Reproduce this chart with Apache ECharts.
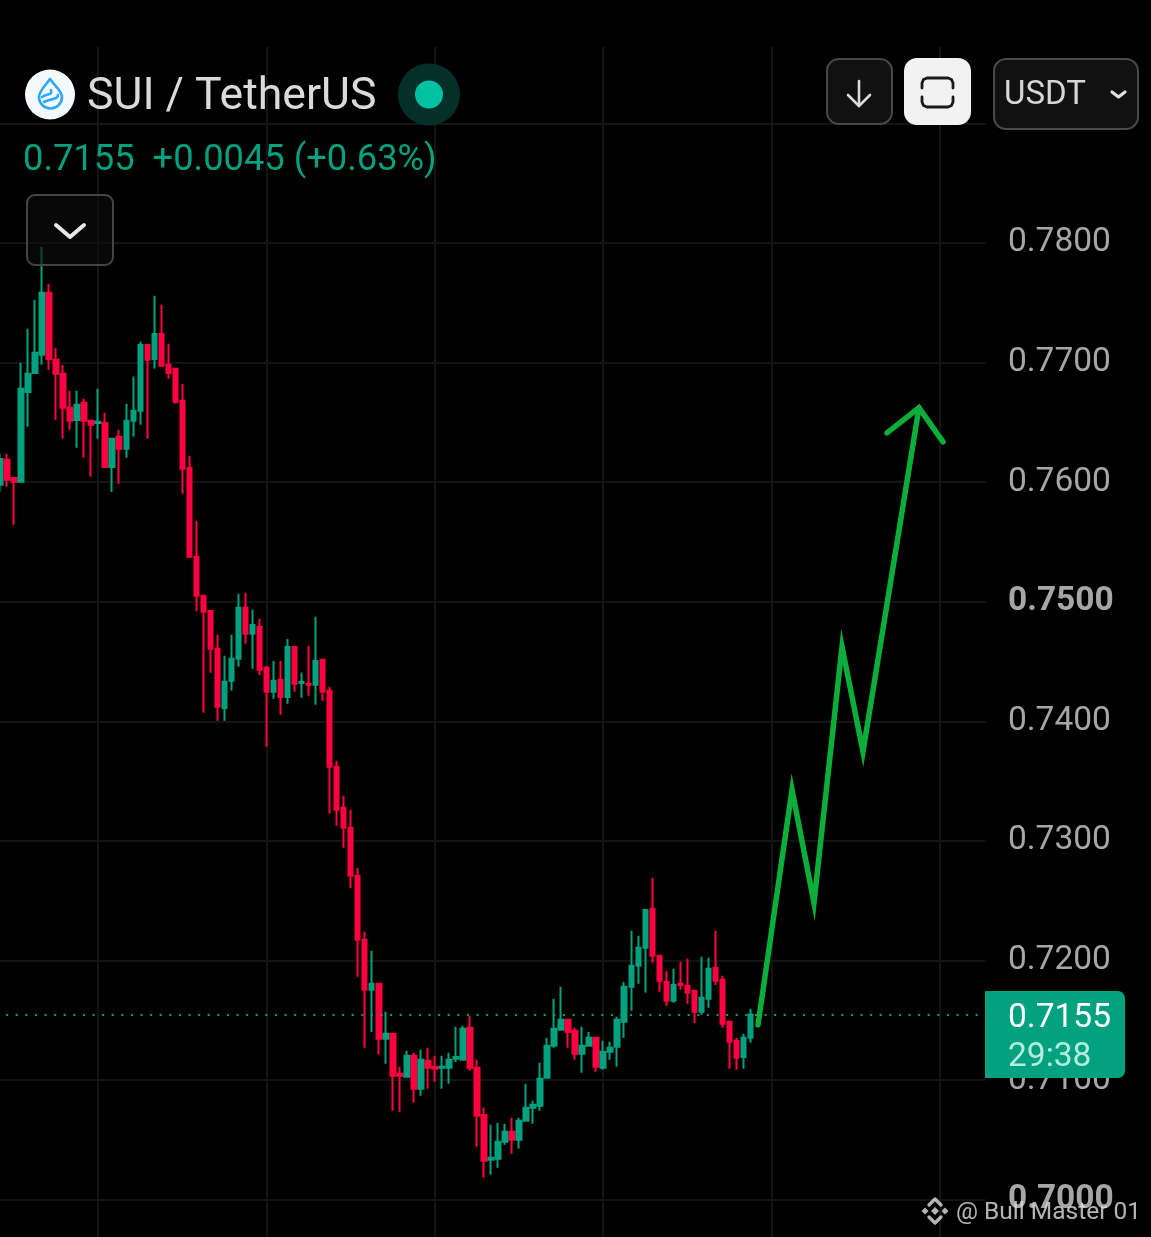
<!DOCTYPE html>
<html><head><meta charset="utf-8">
<style>html,body{margin:0;padding:0;background:#000}#c{width:1151px;height:1237px}</style>
<script src="https://cdn.jsdelivr.net/npm/echarts@6/dist/echarts.min.js"></script>
</head><body><div id="c"></div>
<script>
const opens=[.75978,.76187,.76036,.76003,.76755,.76914,.77065,.77583,.77023,.76906,.76622,.76521,.76664,.76513,.76496,.76496,.76128,.76379,.76279,.76513,.76597,.77148,.77031,.77240,.76981,.76948,.76680,.76120,.75376,.75050,.74924,.74607,.74113,.74339,.74523,.74950,.74732,.74791,.74448,.74247,.74348,.74205,.74623,.74322,.74314,.74306,.74515,.74256,.73620,.73277,.73110,.72709,.72174,.71756,.71806,.71346,.71388,.71053,.71028,.71204,.70928,.71162,.71112,.71104,.71104,.71179,.71170,.71438,.71104,.70710,.70334,.70343,.70485,.70568,.70502,.70660,.70769,.70786,.71020,.71287,.71421,.71505,.71413,.71221,.71287,.71354,.71104,.71237,.71279,.71488,.71781,.71956,.72107,.72433,.72040,.71822,.71664,.71806,.71789,.71747,.71572,.71680,.71940,.71839,.71488,.71329,.71195,.71354];
const closes=[.76195,.76020,.76003,.76781,.76906,.77082,.77583,.77031,.76906,.76622,.76513,.76647,.76513,.76480,.76505,.76128,.76363,.76279,.76513,.76597,.77148,.77023,.77240,.76973,.76914,.76672,.76112,.75376,.75050,.74916,.74607,.74122,.74331,.74523,.74950,.74732,.74807,.74431,.74247,.74339,.74205,.74623,.74314,.74331,.74306,.74506,.74247,.73620,.73261,.73110,.72709,.72174,.71756,.71806,.71346,.71388,.71037,.71037,.71204,.70928,.71170,.71104,.71095,.71112,.71170,.71195,.71430,.71104,.70702,.70326,.70351,.70485,.70568,.70502,.70660,.70769,.70794,.71012,.71287,.71430,.71505,.71404,.71221,.71287,.71354,.71112,.71237,.71271,.71505,.71781,.71956,.72107,.72424,.72040,.71831,.71664,.71797,.71797,.71731,.71572,.71689,.71931,.71831,.71471,.71321,.71187,.71354,.71550];
const lows=[.75919,.75961,.75643,.76003,.76463,.76914,.76981,.76939,.76521,.76363,.76438,.76287,.76204,.76045,.76363,.76128,.75919,.75986,.76204,.76379,.76480,.76363,.76948,.76973,.76864,.76655,.75903,.75376,.74924,.74072,.74406,.74005,.74005,.74256,.74456,.74649,.74440,.74389,.73787,.74189,.74055,.74147,.74247,.74197,.74214,.74139,.74172,.73227,.73127,.72943,.72608,.71864,.71271,.71404,.71212,.71137,.70744,.70735,.71028,.70811,.70869,.70928,.70986,.70928,.70970,.71153,.71170,.71078,.70443,.70184,.70209,.70267,.70460,.70384,.70426,.70660,.70635,.70744,.71012,.71271,.71421,.71271,.71170,.71062,.71287,.71070,.71087,.71170,.71112,.71354,.71580,.71806,.71731,.71981,.71739,.71622,.71647,.71756,.71639,.71479,.71547,.71605,.71797,.71438,.71095,.71087,.71095,.71313];
const highs=[.76237,.76237,.76045,.76998,.77282,.77525,.77968,.77658,.77123,.76981,.76764,.76764,.76697,.76513,.76781,.76580,.76363,.76438,.76655,.76881,.77174,.77148,.77558,.77483,.77157,.76948,.76822,.76220,.75677,.75050,.74924,.74724,.74548,.74724,.75067,.75075,.74933,.74858,.74465,.74506,.74506,.74690,.74632,.74406,.74632,.74874,.74523,.74289,.73670,.73378,.73261,.72776,.72241,.72082,.71814,.71572,.71388,.71112,.71246,.71229,.71254,.71271,.71204,.71204,.71229,.71446,.71455,.71538,.71170,.70769,.70627,.70644,.70635,.70685,.70685,.70970,.70828,.71145,.71354,.71680,.71781,.71505,.71438,.71446,.71404,.71363,.71329,.71321,.71530,.71822,.72249,.72207,.72433,.72692,.72040,.71914,.71931,.71990,.72015,.71756,.72032,.72023,.72249,.71873,.71488,.71354,.71388,.71597];
const lastPrice=0.7155;
const gridCandles=[14,38,62,86,110,134];
const forecastX=[108.07,112.92,116.05,120.05,123.04,131.02];
const forecastY=[.71463,.73428,.72483,.74624,.73746,.76622];
const arrowHeadX=[126.46,131.02,134.45];
const arrowHeadY=[.76413,.76622,.76337];
const categories=Array.from({length:141},(_,i)=>String(i));

const GREEN='#02A17F',RED='#FF0040',F='Roboto, sans-serif';
const candles=opens.map((o,i)=>[o,closes[i],lows[i],highs[i]]);
const chart=echarts.init(document.getElementById('c'),null,{renderer:'canvas'});
const box=(x,y,w,h,r,fill,stroke,z)=>({type:'rect',z:z||100,shape:{x,y,width:w,height:h,r},style:{fill,stroke,lineWidth:stroke?2:0}});
const line=(pts,stroke,w,z)=>({type:'polyline',z:z||101,shape:{points:pts},style:{fill:null,stroke,lineWidth:w,lineCap:'round',lineJoin:'round'}});
const txt=(x,y,text,size,fill,extra)=>({type:'text',z:102,x,y,style:Object.assign({text,fontFamily:F,fontSize:size,fill,verticalAlign:'middle'},extra||{})});
const diamond=(cx,cy,r,fill)=>({type:'polygon',z:102,shape:{points:[[cx,cy-r],[cx+r,cy],[cx,cy+r],[cx-r,cy]]},style:{fill}});
const curve=(x1,y1,cpx1,cpy1,cpx2,cpy2,x2,y2,stroke,w)=>({type:'bezierCurve',z:101,shape:{x1,y1,cpx1,cpy1,cpx2,cpy2,x2,y2},style:{fill:null,stroke,lineWidth:w,lineCap:'round'}});
const WM='rgba(225,225,225,0.8)',BLUE='#2DA8FF';
chart.setOption({
  animation:false,backgroundColor:'#000',
  grid:{left:-3.507,top:3.8,width:988.97,height:1315.6,containLabel:false,outerBoundsMode:'none'},
  xAxis:[
    {type:'category',data:categories,boundaryGap:true,axisLine:{show:false},axisTick:{show:false},axisLabel:{show:false},
     splitLine:{show:true,alignWithLabel:true,interval:(i)=>gridCandles.includes(i),lineStyle:{color:'#141414',width:2}}},
    {type:'value',min:-0.5,max:140.5,show:false,splitLine:{show:false}}
  ],
  yAxis:{type:'value',position:'right',min:0.69,max:0.80,interval:0.01,scale:true,
    axisLine:{show:false},axisTick:{show:false},
    splitLine:{show:true,lineStyle:{color:'#141414',width:2}},
    axisLabel:{margin:22.5,fontFamily:F,fontSize:33.5,color:'#a6a6a6',
      rich:{b:{fontFamily:F,fontSize:33.5,fontWeight:'bold',color:'#a6a6a6'}},
      formatter:(v)=>{const c=Math.round(v*100);if(c<70||c>78)return '';const s=v.toFixed(4);return c%5===0?'{b|'+s+'}':s;}}
  },
  series:[
    {type:'candlestick',data:candles,barWidth:5,z:3,
      itemStyle:{color:GREEN,color0:RED,borderColor:GREEN,borderColor0:RED,borderWidth:2},
      markLine:{silent:true,symbol:'none',animation:false,precision:4,label:{show:false},
        lineStyle:{color:GREEN,type:[2,7.6],width:2},data:[{yAxis:lastPrice}]}},
    {type:'line',xAxisIndex:1,data:forecastX.map((x,i)=>[x,forecastY[i]]),showSymbol:false,z:5,
      lineStyle:{color:'#0BAE3B',width:5.5,cap:'round',join:'miter'}},
    {type:'line',xAxisIndex:1,data:arrowHeadX.map((x,i)=>[x,arrowHeadY[i]]),showSymbol:false,z:5,
      lineStyle:{color:'#0BAE3B',width:5.5,cap:'round',join:'miter'}}
  ],
  graphic:[
    {type:'rect',z:90,shape:{x:0,y:0,width:1151,height:47},style:{fill:'#000'}},
    {type:'circle',z:100,shape:{cx:50,cy:94.5,r:25},style:{fill:'#F4F9FE'}},
    curve(50,79,45,86,39,91,39,97,BLUE,2.6),
    curve(50,79,55,86,62,91,62,97,BLUE,2.6),
    {type:'arc',z:101,shape:{cx:50.5,cy:97,r:11.5,startAngle:0,endAngle:Math.PI,clockwise:true},style:{fill:null,stroke:BLUE,lineWidth:2.6}},
    curve(42,97,47,93,53,96,51,90,BLUE,2.6),
    curve(44,102,51,98,58,100,58,95,BLUE,2.6),
    txt(87,98,'SUI / TetherUS',44.6,'#DADADA'),
    {type:'circle',z:100,shape:{cx:429,cy:94.5,r:31},style:{fill:'#05302A'}},
    {type:'circle',z:101,shape:{cx:429,cy:94.5,r:14},style:{fill:'#00C2A3'}},
    txt(23,161,'0.7155  +0.0045 (+0.63%)',36.3,GREEN),
    box(27,195,86,70,8,'rgba(12,12,12,0.6)','#444444'),
    line([[56,225],[70,237],[84,225]],'#E8E8E8',4),
    box(827,59,65,65,12,'#111111','#484848'),
    line([[859,81],[859,106]],'#DADADA',2.6),
    line([[848,95],[859,106],[870,95]],'#DADADA',2.6),
    box(904,58,67,67,13,'#F2F2F2',null),
    line([[922,88],[922,83],[923.5,79.5],[927,78],[948,78],[951.5,79.5],[953,83],[953,88]],'#1A1A1A',2.8),
    line([[922,97],[922,102],[923.5,105.5],[927,107],[948,107],[951.5,105.5],[953,102],[953,97]],'#1A1A1A',2.8),
    box(994,59,144,70,12,'#111111','#4A4A4A'),
    txt(1004,96,'USDT',33,'#D6D6D6'),
    line([[1112,92],[1118.5,97],[1125,92]],'#E0E0E0',3.2),
    {type:'rect',z:100,shape:{x:985,y:991,width:140,height:87,r:[0,7,7,0]},style:{fill:GREEN}},
    txt(1008,1019,'0.7155',33.5,'#FFFFFF'),
    txt(1008,1058,'29:38',33.5,'#B5EDDD'),
    diamond(925,1211,3.5,WM),diamond(945,1211,3.5,WM),diamond(935,1211,4,WM),
    line([[929,1205],[935,1199],[941,1205]],WM,3.4),
    line([[929,1217],[935,1223],[941,1217]],WM,3.4),
    txt(956,1213,'@ Bull Master 01',24.5,WM)
  ]
});
</script></body></html>
